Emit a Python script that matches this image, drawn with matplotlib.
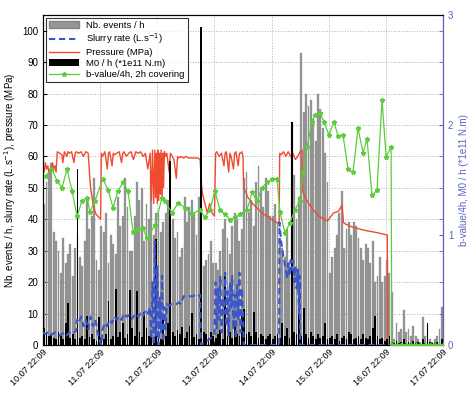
import numpy as np
import matplotlib
matplotlib.use("Agg")
import matplotlib.pyplot as plt
from matplotlib.patches import Patch
from matplotlib.lines import Line2D

plt.rcParams['font.family'] = ['Liberation Sans', 'DejaVu Sans']

# ---------------- data ----------------
date_labels = ["10.07 22:09", "11.07 22:09", "12.07 22:09", "13.07 22:09",
               "14.07 22:09", "15.07 22:09", "16.07 22:09", "17.07 22:09"]

# number of events per hour (168 hours)
events = [45, 52, 55, 58, 36, 33, 30, 23, 34, 26, 29, 32, 22, 31, 35, 28, 25, 33, 47, 37, 41, 53, 27, 24,
          38, 36, 42, 26, 35, 32, 29, 47, 38, 41, 53, 44, 30, 30, 41, 52, 46, 50, 33, 45, 40, 55, 35, 42,
          42, 36, 39, 42, 46, 38, 40, 34, 36, 28, 31, 47, 39, 44, 46, 42, 35, 47, 30, 25, 27, 29, 33, 26,
          26, 24, 30, 37, 40, 34, 29, 38, 42, 40, 33, 37, 53, 55, 42, 46, 38, 52, 57, 50, 44, 53, 49, 41,
          41, 45, 39, 34, 31, 28, 37, 26, 71, 54, 40, 47, 93, 74, 80, 76, 78, 72, 65, 80, 75, 69, 61, 52,
          23, 28, 31, 35, 42, 49, 31, 37, 39, 35, 39, 38, 34, 31, 27, 32, 31, 26, 33, 20, 22, 28, 20, 22,
          27, 23, 17, 2, 7, 4, 5, 11, 4, 5, 3, 6, 3, 2, 1, 9, 3, 6, 2, 1, 2, 3, 5, 12]

# seismic moment per hour (*1e11 N.m), right axis
m0 = [0.15, 0.10, 0.08, 0.10, 0.06, 0.05, 0.12, 0.08, 0.05, 0.20, 0.38, 0.06, 0.10, 0.05, 1.60, 0.06, 0.08, 0.05, 0.26, 0.07, 0.10, 0.05, 0.04, 0.25,
      0.06, 0.05, 0.10, 0.40, 0.05, 0.08, 0.51, 0.07, 0.12, 0.20, 0.06, 0.10, 0.50, 0.15, 0.08, 0.49, 0.12, 0.07, 0.30, 0.15, 0.08, 0.10, 0.06, 0.96,
      0.10, 0.05, 0.25, 0.08, 0.20, 1.67, 0.12, 0.08, 0.14, 0.10, 0.16, 0.06, 0.12, 0.17, 0.29, 0.07, 0.10, 0.05, 2.89, 0.12, 0.10, 0.06, 0.12, 0.08,
      0.06, 0.10, 0.14, 0.05, 0.66, 0.08, 0.12, 0.06, 0.17, 0.10, 0.08, 0.26, 0.33, 0.10, 0.12, 0.08, 0.30, 0.12, 0.06, 0.10, 0.08, 0.05, 0.08, 0.10,
      0.05, 0.08, 0.10, 0.06, 0.20, 0.08, 0.15, 0.06, 2.03, 0.12, 0.10, 0.49, 0.08, 0.34, 0.10, 0.06, 0.12, 0.08, 0.05, 0.10, 0.06, 0.08, 0.20, 0.05,
      0.06, 0.08, 0.05, 0.10, 0.04, 0.06, 0.08, 0.05, 0.12, 0.10, 0.05, 0.06, 0.08, 0.05, 0.10, 0.06, 0.05, 0.08, 0.15, 0.26, 0.08, 0.05, 0.06, 0.04,
      0.05, 0.08, 0.03, 0.02, 0.04, 0.02, 0.03, 0.05, 0.02, 0.03, 0.02, 0.04, 0.02, 0.03, 0.02, 0.05, 0.02, 0.20, 0.03, 0.02, 0.02, 0.03, 0.02, 0.05]

# pressure (MPa)
p_hours = [0, 0.5, 1, 1.5, 2, 2.5, 3, 3.5, 4, 4.5, 5, 5.5, 6, 7, 8, 8.3, 9, 10, 10.5, 11, 12, 13, 13.5, 14, 15, 16, 17, 18, 19, 19.5,
           20, 21, 22, 23, 24.2, 24.5, 25, 26, 27, 27.5, 28, 29, 29.5, 30, 31, 32, 33, 33.5, 34, 35, 36, 37, 38, 39, 40, 41, 42, 43, 44, 45,
           45.5, 46, 46.5, 47, 47.3, 47.6, 48, 48.3, 48.6, 49, 49.3, 49.6, 50, 50.3, 50.6, 51, 51.5, 52, 53, 53.5, 54, 55, 56, 56.5, 57, 58,
           59, 60, 61, 62, 63, 64, 65, 66, 66.5, 67, 68, 69, 70, 71, 72, 72.5, 73, 74, 75, 76, 76.5, 77, 78, 78.5, 79, 80, 80.5, 81, 82, 82.5,
           83, 83.5, 84, 84.3, 85, 86, 88, 90, 92, 94, 96, 98, 99.2, 99.4, 100, 101, 102, 103, 104, 105, 106, 107, 108, 108.8, 109, 110, 112,
           114, 116, 118, 119.5, 121, 122, 124, 125.6, 126.2, 127, 130, 135, 140, 144.6, 144.8, 168]
pressure = [57, 55, 58, 56, 57, 55, 56, 55, 58, 56, 57, 55, 61.5, 61, 60.5, 58, 61.5, 60, 61.5, 61, 61.5, 58, 61, 61.5, 61, 61.5, 60, 61.5, 61, 55,
            50, 45, 42, 41, 40, 61, 60, 61.5, 56, 61, 61.5, 57, 61, 60.5, 61, 61.5, 58, 61, 61.5, 60, 61, 61.5, 59, 61.5, 61, 61.5, 60, 61, 56, 61,
            46, 62, 45, 62, 47, 61, 45, 62, 46, 61, 48, 62, 46, 61, 50, 61.5, 60, 61, 55, 61, 60.5, 59, 53, 60, 59.5, 60,
            59.5, 60, 59.5, 59.5, 59.5, 59.5, 59.5, 59, 52, 48, 45, 42, 45, 42, 41, 61, 61.5, 60, 61, 57, 61, 61.5, 55, 61, 60, 56, 61, 61.5, 57, 61,
            61, 61.5, 60, 50, 49, 47, 45, 43.5, 42, 41, 40, 39, 39, 61, 60.5, 61.5, 60, 61.5, 60, 61, 59, 60, 61.5, 62, 49, 47, 44.5,
            42.5, 41, 40, 39.5, 41, 42, 42.5, 44.5, 39, 38.5, 37.5, 36.5, 35.8, 35, 0, 0]

# slurry rate (L/s)
s_hours = [0, 1, 2, 3, 4, 5, 6, 7, 8, 9, 10, 11, 12, 13, 14, 14.3, 15, 16, 17, 18, 19, 20, 21, 22, 23, 24, 24.5, 25, 26, 27, 28, 29, 30,
           31, 32, 33, 34, 35, 36, 37, 38, 39, 40, 41, 42, 43, 44, 45, 45.5, 46, 46.5, 47, 47.5, 48, 48.5, 49, 49.5, 50, 50.5, 51, 51.5, 52,
           53, 54, 55, 56, 57, 58, 59, 60, 61, 62, 63, 64, 65, 66, 66.3, 72, 72.5, 73, 73.5, 74, 74.5, 75, 75.5, 76, 76.5, 77, 77.5, 78,
           78.5, 79, 79.5, 80, 80.5, 81, 81.5, 82, 82.5, 83, 83.5, 84, 84.3, 99.2, 99.3, 100, 101, 102, 102.5, 103, 103.5, 104, 104.5, 105,
           105.5, 106, 106.5, 107, 107.5, 107.8, 108, 168]
slurry = [4, 3.5, 4, 3, 3.5, 4, 3.5, 3, 3.5, 4, 3, 4, 3.5, 4, 4.5, 8, 7, 9, 6, 8, 5, 9, 6, 8, 4, 1, 0, 5, 7, 6, 8, 7, 9,
          8, 9, 8, 10, 9, 9.5, 8, 9, 10, 9, 10, 9, 11, 10, 12, 2, 20, 0, 33, 3, 25, 0, 15, 4, 22, 1, 12, 5, 13,
          12.5, 13, 13, 13, 13.5, 13, 15.5, 15.5, 15.5, 15.5, 15.5, 16, 15.5, 16, 0, 3, 20, 5, 18, 8, 22, 4, 15, 10, 23, 6, 17, 3,
          20, 12, 22, 5, 16, 2, 19, 8, 23, 4, 18, 10, 0, 0, 39, 33, 28, 24, 21, 26, 22, 27, 24, 27,
          20, 25, 18, 24, 10, 22, 0, 0]

# b-value (4h windows, 2h covering), right axis
b_hours = [1.3, 3.8, 5.9, 8.0, 10.1, 12.2, 14.3, 16.4, 18.5, 19.7, 21.8, 25.2, 27.3, 29.4, 31.5, 33.6, 35.7, 37.8, 39.9, 42.0,
           43.7, 47.0, 50.0, 51.2, 54.2, 56.7, 59.6, 62.6, 65.9, 68.0, 70.1, 72.2, 74.3, 76.4, 78.5, 80.6, 82.7, 85.7, 87.8, 89.9,
           92.0, 94.1, 96.2, 98.3, 99.5, 101.6, 103.7, 105.8, 107.9, 109.2, 110.9, 113.0, 114.2, 116.3, 118.0, 120.1, 122.2, 123.9,
           126.0, 128.1, 130.2, 132.3, 134.4, 136.1, 138.2, 140.3, 142.4, 144.1, 146.2, 146.5, 148.5, 150.5, 152.5, 154.5, 156.5,
           158.5, 160.5, 162.5, 164.5, 166.5, 168]
b_value = [1.54, 1.60, 1.49, 1.43, 1.60, 1.40, 1.17, 1.31, 1.34, 1.21, 1.31, 1.51, 1.41, 1.25, 1.40, 1.48, 1.40, 1.03, 1.05, 1.06,
           0.97, 1.09, 1.34, 1.31, 1.20, 1.29, 1.25, 1.19, 1.23, 1.16, 1.23, 1.40, 1.23, 1.19, 1.14, 1.16, 1.19, 1.23, 1.39, 1.31,
           1.43, 1.48, 1.51, 1.51, 1.21, 1.02, 1.11, 1.23, 1.31, 1.57, 1.80, 2.03, 2.09, 2.11, 2.03, 1.91, 2.03, 1.90,
           1.91, 1.60, 1.57, 1.97, 1.75, 1.87, 1.36, 1.41, 2.23, 1.71, 1.80, 0.0, 0.0, 0.0, 0.0, 0.0, 0.0,
           0.0, 0.0, 0.0, 0.0, 0.0, 0.0]

# ---------------- plot ----------------
fig = plt.figure(figsize=(4.74, 3.95), dpi=100)
ax = fig.add_axes([0.0907, 0.1266, 0.8439, 0.8354])
ax2 = ax.twinx()

hours = np.arange(len(events)) + 0.5
gray_c = '#969696'
blue_c = '#3c55c8'
red_c = '#f04a30'
green_c = '#5ccc3c'
axis_blue = '#5a64c0'

ax.bar(hours, events, width=0.78, color=gray_c, edgecolor='#858585', linewidth=0.2, zorder=2)
ax.plot(p_hours, pressure, color=red_c, lw=1.0, zorder=3)

ax2.bar(hours, m0, width=0.75, color='black', zorder=2)
# slurry rate uses the left-axis scale but is drawn above the black bars
ax2.plot(s_hours, slurry, color=blue_c, lw=1.5, ls=(0, (3, 1.8)), zorder=3, transform=ax.transData)
ax2.plot(b_hours, b_value, color=green_c, lw=0.9, marker='*', ms=3.5, mec=green_c, mfc=green_c, zorder=4)

ax.set_xlim(0, 168)
ax.set_ylim(0, 105)
ax2.set_ylim(0, 3)

ax.set_yticks(np.arange(0, 101, 10))
ax.set_xticks(np.arange(0, 169, 24))
ax.set_xticklabels(date_labels, rotation=45, ha='right', rotation_mode='anchor', fontsize=6.5)
ax.tick_params(axis='y', labelsize=7, direction='in', length=3)
ax.tick_params(axis='x', direction='in', length=3, pad=2)
ax.grid(True, ls=':', color='#b0b0b0', lw=0.7, zorder=0)
ax.set_axisbelow(True)

ax2.set_yticks([0, 1, 2, 3])
ax2.set_yticks(np.arange(10, 101, 10) / 35.0, minor=True)
ax2.tick_params(axis='y', which='both', direction='in', colors=axis_blue, labelsize=7, length=3)
ax2.spines['right'].set_color(axis_blue)

ax.set_ylabel("Nb. events / h, slurry rate (L.s$^{-1}$), pressure (MPa)", fontsize=7, labelpad=3)
ax2.set_ylabel("b-value/4h, M0 / h (*1e11 N.m)", fontsize=7, color=axis_blue, labelpad=4)

handles = [Patch(facecolor=gray_c, edgecolor='#858585'),
           Line2D([], [], color=blue_c, lw=1.5, ls=(0, (3, 1.8))),
           Line2D([], [], color=red_c, lw=1.0),
           Patch(facecolor='black'),
           Line2D([], [], color=green_c, lw=0.9, marker='*', ms=3.5)]
labels = ["Nb. events / h", "Slurry rate (L.s$^{-1}$)", "Pressure (MPa)",
          "M0 / h (*1e11 N.m)", "b-value/4h, 2h covering"]
leg = ax2.legend(handles, labels, loc='upper left', fontsize=6.8, frameon=True, fancybox=False,
                 edgecolor='black', borderpad=0.3, labelspacing=0.2, handlelength=3.2,
                 borderaxespad=0.3)
leg.get_frame().set_linewidth(0.8)
leg.set_zorder(10)

fig.savefig("out.png", dpi=100)
